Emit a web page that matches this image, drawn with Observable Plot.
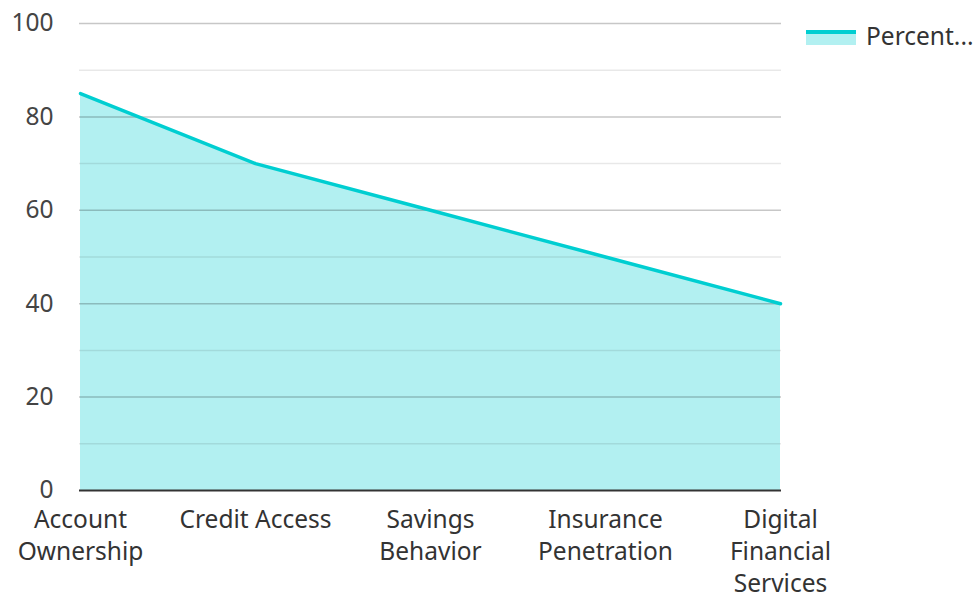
<!DOCTYPE html>
<html><head><meta charset="utf-8">
<script src="https://cdn.jsdelivr.net/npm/d3@7"></script>
<script src="https://cdn.jsdelivr.net/npm/@observablehq/plot@0.6"></script>
<style>
body{margin:0;background:#fff;font-family:"Noto Sans",sans-serif;}
#wrap{position:relative;width:976px;height:594px;}
#legend{position:absolute;left:806px;top:19px;display:flex;align-items:center;font-size:24.5px;color:#333;font-family:"Noto Sans",sans-serif;white-space:nowrap;}
#legend .sw{width:50px;height:15px;background:#b2f0f1;border-top:4px solid #00CED1;box-sizing:border-box;margin-right:10px;margin-top:4px;}
</style></head><body><div id="wrap"></div>
<script>
const categories = ["Account Ownership","Credit Access","Savings Behavior","Insurance Penetration","Digital Financial Services"];
const tickLabels = ["Account\nOwnership","Credit Access","Savings\nBehavior","Insurance\nPenetration","Digital\nFinancial\nServices"];
const percentValues = [85,70,60,50,40];
const seriesName = "Percent...";
const majorTicks = [0,20,40,60,80,100];
const minorTicks = [10,30,50,70,90];

const data = categories.map((c,i)=>({cat:c, v:percentValues[i]}));
const color = "#00CED1";

const chart = Plot.plot({
  width: 976, height: 594,
  marginLeft: 79, marginRight: 195, marginTop: 23, marginBottom: 104,
  style: {fontFamily: '"Noto Sans", sans-serif', fontSize: "24.5px", color: "#444", background: "#fff"},
  x: {type: "point", domain: categories, padding: 0},
  y: {domain: [0, 100]},
  marks: [
    Plot.areaY(data, {x: "cat", y: "v", fill: color, fillOpacity: 0.3}),
    Plot.ruleY(minorTicks, {stroke: "#000", strokeOpacity: 0.09, strokeWidth: 1.5}),
    Plot.ruleY(majorTicks.filter(d => d > 0), {stroke: "#000", strokeOpacity: 0.22, strokeWidth: 1.5}),
    Plot.lineY(data, {x: "cat", y: "v", stroke: color, strokeWidth: 3.5}),
    Plot.ruleY([0], {stroke: "#333", strokeWidth: 2}),
    Plot.axisY({ticks: majorTicks, tickSize: 0, tickPadding: 26, label: null, fill: "#444", fontSize: 24.5}),
    Plot.axisX({tickSize: 0, tickPadding: 15, label: null, lineHeight: 1.31, fill: "#333", fontSize: 24.5,
      tickFormat: d => tickLabels[categories.indexOf(d)]})
  ]
});
const wrap = document.getElementById("wrap");
wrap.appendChild(chart);
const lg = document.createElement("div");
lg.id = "legend";
lg.innerHTML = '<div class="sw"></div><span></span>';
lg.querySelector("span").textContent = seriesName;
wrap.appendChild(lg);
</script></body></html>
